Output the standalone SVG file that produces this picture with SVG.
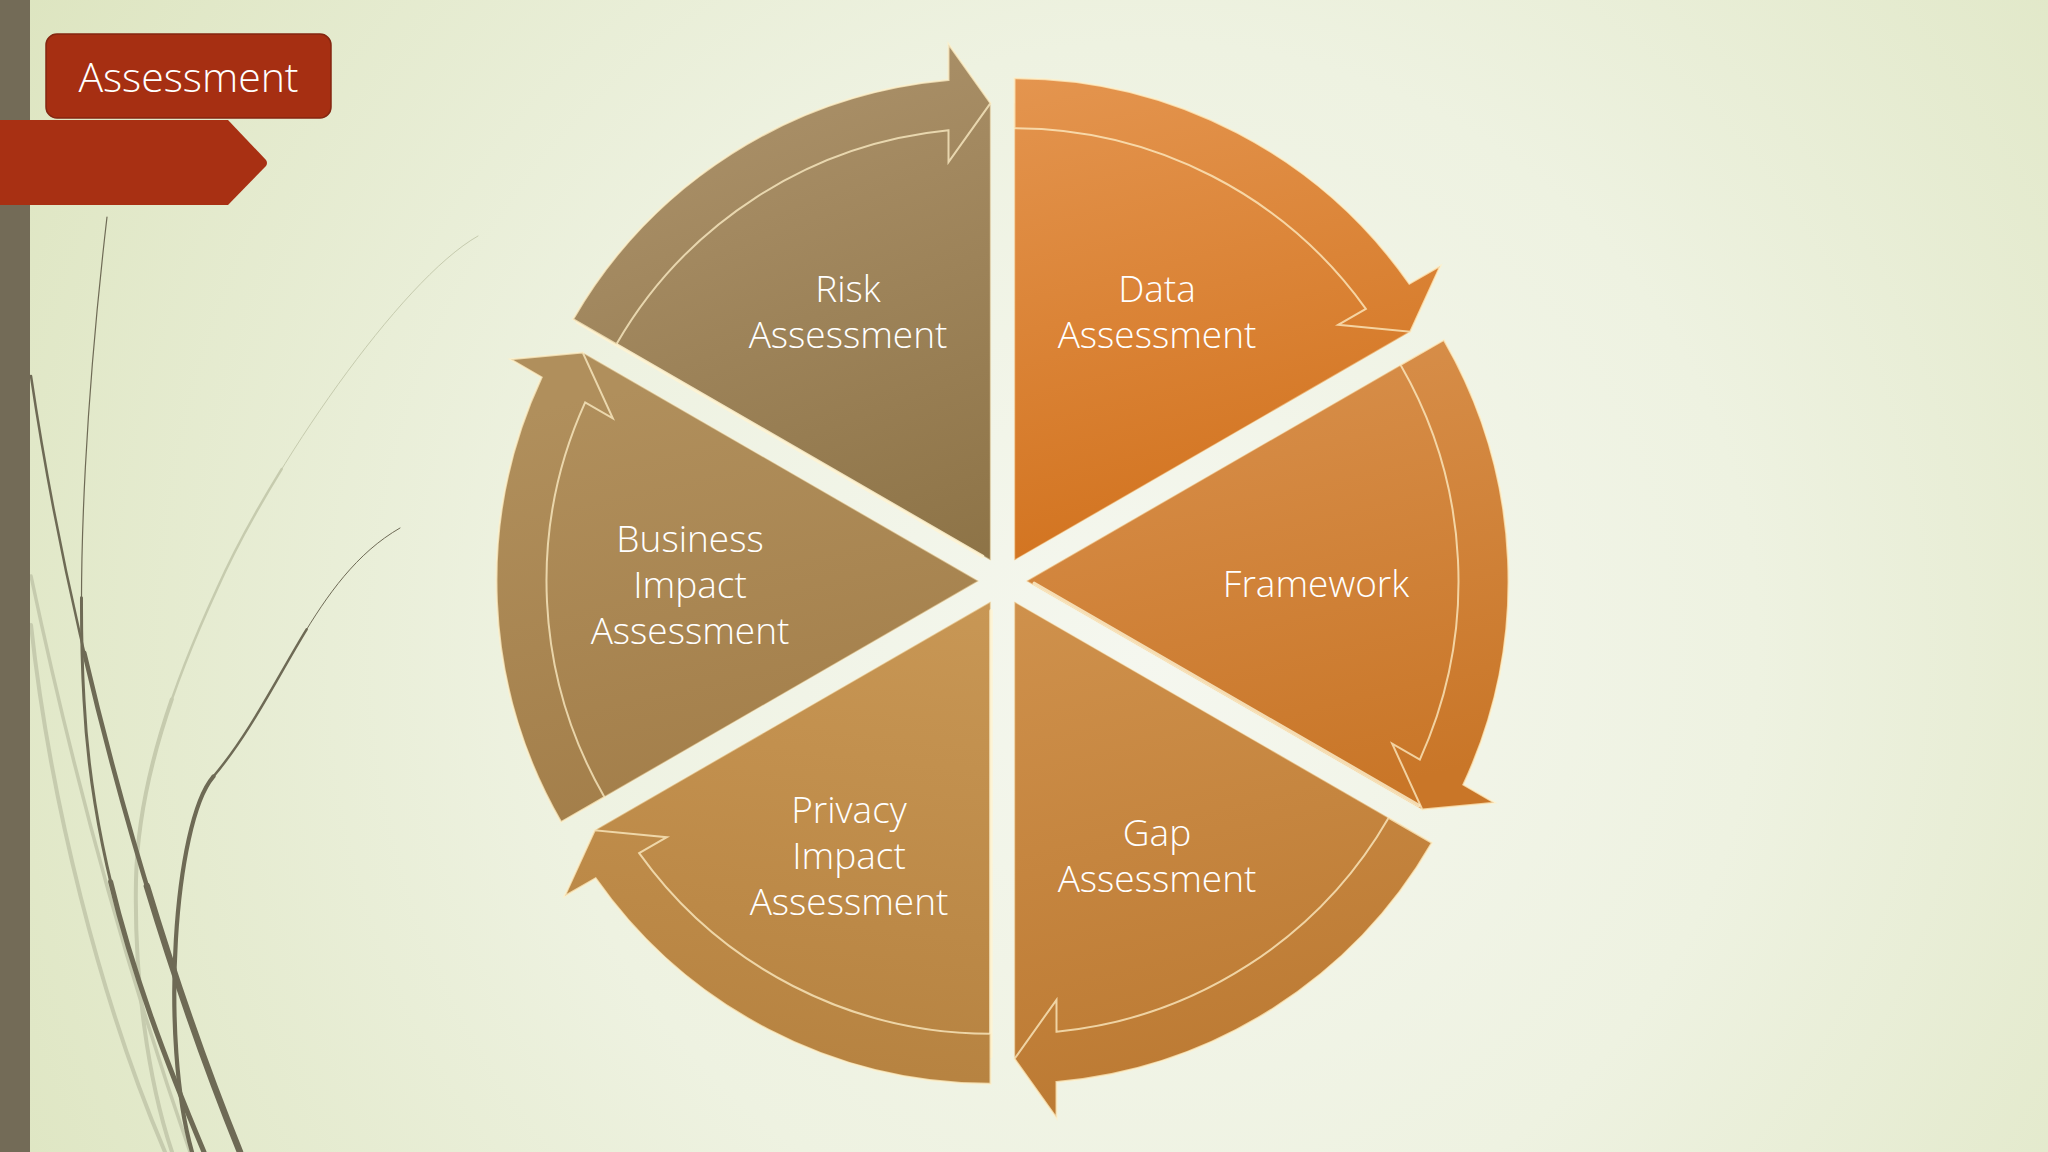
<svg xmlns="http://www.w3.org/2000/svg" width="2048" height="1152" viewBox="0 0 2048 1152">
<style>
.lbl{font-family:"Open Sans","Noto Sans","Liberation Sans",sans-serif;font-weight:300;font-size:37px;fill:#FFFFFF;text-anchor:middle}
.ttl{font-family:"Open Sans","Noto Sans","Liberation Sans",sans-serif;font-weight:300;font-size:41px;fill:#FFFFFF;text-anchor:middle}
.pie{stroke:#FFF0C8;stroke-opacity:.45;stroke-width:1.5;stroke-linejoin:round}
.arw{stroke:#FFF0C8;stroke-opacity:.75;stroke-width:2;stroke-linejoin:miter}
.hl{fill:none;stroke:#FFF4D2;stroke-width:3.5;stroke-opacity:.8;stroke-linecap:round}
.wd{fill:none;stroke:#6E6A55;stroke-linecap:round}
.wl{fill:none;stroke:#C6CBAE;stroke-linecap:round}
</style>
<defs>
<radialGradient id="bg" cx="1150" cy="650" r="1350" gradientUnits="userSpaceOnUse">
<stop offset="0" stop-color="#F5F7EF"/>
<stop offset="0.45" stop-color="#EEF2E1"/>
<stop offset="1" stop-color="#DCE4BE"/>
</radialGradient>
<linearGradient id="gRisk" gradientUnits="userSpaceOnUse" gradientTransform="rotate(90)" x1="-120" y1="-482" x2="60" y2="0"><stop offset="0" stop-color="#A88E66"/><stop offset="1" stop-color="#8C7245"/></linearGradient>
<linearGradient id="gData" gradientUnits="userSpaceOnUse" gradientTransform="rotate(30)" x1="0" y1="-482" x2="120" y2="0"><stop offset="0" stop-color="#E4954F"/><stop offset="1" stop-color="#D2731F"/></linearGradient>
<linearGradient id="gFrame" gradientUnits="userSpaceOnUse" gradientTransform="rotate(-30)" x1="0" y1="-260" x2="120" y2="260"><stop offset="0" stop-color="#DA9350"/><stop offset="1" stop-color="#C97628"/></linearGradient>
<linearGradient id="gGap" gradientUnits="userSpaceOnUse" gradientTransform="rotate(-90)" x1="0" y1="0" x2="120" y2="500"><stop offset="0" stop-color="#CF914C"/><stop offset="1" stop-color="#BC7A33"/></linearGradient>
<linearGradient id="gPriv" gradientUnits="userSpaceOnUse" gradientTransform="rotate(-150)" x1="0" y1="0" x2="-60" y2="500"><stop offset="0" stop-color="#C89755"/><stop offset="1" stop-color="#B68240"/></linearGradient>
<linearGradient id="gBus" gradientUnits="userSpaceOnUse" gradientTransform="rotate(150)" x1="-60" y1="-260" x2="60" y2="260"><stop offset="0" stop-color="#B08F5C"/><stop offset="1" stop-color="#A07A45"/></linearGradient>
<path id="pieShape" d="M0,0 L228.5,-395.78 A457,457 0 0 1 457,0 Z"/>
<path id="arrowShape" d="M241,-417.42 A482,482 0 0 1 480.17,-42 L516,-42 L457,0 L398,-42 L429.95,-42 A432,432 0 0 0 216,-374.12 Z"/>
</defs>

<rect x="0" y="0" width="2048" height="1152" fill="url(#bg)"/>

<g id="wisps">
<path class="wl" d="M31,576 C70,760 120,950 190,1152" stroke-width="3.5"/>
<path class="wl" d="M31,625 C50,800 100,1000 165,1152" stroke-width="4"/>
<path class="wl" d="M478,236 C400,280 270,470 217,589 C175,680 138,780 136,880 C134,980 148,1080 172,1152" stroke-width="1"/>
<path class="wl" pathLength="100" stroke-dasharray="100 100" stroke-dashoffset="-30" d="M478,236 C400,280 270,470 217,589 C175,680 138,780 136,880 C134,980 148,1080 172,1152" stroke-width="2.5"/>
<path class="wl" pathLength="100" stroke-dasharray="100 100" stroke-dashoffset="-55" d="M478,236 C400,280 270,470 217,589 C175,680 138,780 136,880 C134,980 148,1080 172,1152" stroke-width="4"/>
<path class="wd" d="M107,217 C88,380 76,560 84,700 C92,860 140,1000 204,1152" stroke-width="1.2"/>
<path class="wd" pathLength="100" stroke-dasharray="100 100" stroke-dashoffset="-40" d="M107,217 C88,380 76,560 84,700 C92,860 140,1000 204,1152" stroke-width="3"/>
<path class="wd" pathLength="100" stroke-dasharray="100 100" stroke-dashoffset="-70" d="M107,217 C88,380 76,560 84,700 C92,860 140,1000 204,1152" stroke-width="5"/>
<path class="wd" d="M31,376 C70,640 150,930 240,1152" stroke-width="2.5"/>
<path class="wd" pathLength="100" stroke-dasharray="100 100" stroke-dashoffset="-35" d="M31,376 C70,640 150,930 240,1152" stroke-width="4.5"/>
<path class="wd" pathLength="100" stroke-dasharray="100 100" stroke-dashoffset="-65" d="M31,376 C70,640 150,930 240,1152" stroke-width="6.5"/>
<path class="wd" d="M400,528 C313,578 283,694 213,777 C174,823 160,1040 192,1152" stroke-width="1"/>
<path class="wd" pathLength="100" stroke-dasharray="100 100" stroke-dashoffset="-20" d="M400,528 C313,578 283,694 213,777 C174,823 160,1040 192,1152" stroke-width="2.5"/>
<path class="wd" pathLength="100" stroke-dasharray="100 100" stroke-dashoffset="-45" d="M400,528 C313,578 283,694 213,777 C174,823 160,1040 192,1152" stroke-width="4.2"/>
</g>

<rect id="sidebar" x="0" y="0" width="30" height="1152" fill="#736B57"/>
<path id="chevron" d="M0,120 L228,120 L266,160 Q268,163 266,166 L228,205 L0,205 Z" fill="#A83013"/>

<g id="title">
<rect x="46" y="34" width="285" height="84" rx="11" fill="#A62F12" stroke="#842610" stroke-width="1.5"/>
<text class="ttl" x="188.5" y="92">Assessment</text>
</g>

<g id="node-risk">
<use href="#pieShape" class="pie" fill="url(#gRisk)" transform="translate(990.5,560.2) rotate(-90)"/>
<path class="hl" d="M4,-8 L238,-413" transform="translate(990.5,560.2) rotate(-90)"/>
<text class="lbl" x="848" y="302">Risk</text>
<text class="lbl" x="848" y="348">Assessment</text>
</g>
<g id="node-data">
<use href="#pieShape" class="pie" fill="url(#gData)" transform="translate(1014.5,560.2) rotate(-30)"/>
<text class="lbl" x="1157" y="302">Data</text>
<text class="lbl" x="1157" y="348">Assessment</text>
</g>
<g id="node-framework">
<use href="#pieShape" class="pie" fill="url(#gFrame)" transform="translate(1026.5,581) rotate(30)"/>
<path class="hl" d="M8,-1.8 L452,-1.8" transform="translate(1026.5,581) rotate(30)"/>
<text class="lbl" x="1316" y="597">Framework</text>
</g>
<g id="node-gap">
<use href="#pieShape" class="pie" fill="url(#gGap)" transform="translate(1014.5,601.8) rotate(90)"/>
<text class="lbl" x="1157" y="846">Gap</text>
<text class="lbl" x="1157" y="892">Assessment</text>
</g>
<g id="node-privacy">
<use href="#pieShape" class="pie" fill="url(#gPriv)" transform="translate(990.5,601.8) rotate(150)"/>
<path class="hl" stroke-opacity=".55" d="M4,-8 L227,-394" transform="translate(990.5,601.8) rotate(150)"/>
<text class="lbl" x="849" y="823">Privacy</text>
<text class="lbl" x="849" y="869">Impact</text>
<text class="lbl" x="849" y="915">Assessment</text>
</g>
<g id="node-business">
<use href="#pieShape" class="pie" fill="url(#gBus)" transform="translate(978.5,581) rotate(-150)"/>
<text class="lbl" x="690" y="552">Business</text>
<text class="lbl" x="690" y="598">Impact</text>
<text class="lbl" x="690" y="644">Assessment</text>
</g>

<g id="connectors">
<use href="#arrowShape" class="arw" fill="url(#gRisk)" transform="translate(990.5,560.2) rotate(-90)"/>
<use href="#arrowShape" class="arw" fill="url(#gData)" transform="translate(1014.5,560.2) rotate(-30)"/>
<use href="#arrowShape" class="arw" fill="url(#gFrame)" transform="translate(1026.5,581) rotate(30)"/>
<use href="#arrowShape" class="arw" fill="url(#gGap)" transform="translate(1014.5,601.8) rotate(90)"/>
<use href="#arrowShape" class="arw" fill="url(#gPriv)" transform="translate(990.5,601.8) rotate(150)"/>
<use href="#arrowShape" class="arw" fill="url(#gBus)" transform="translate(978.5,581) rotate(-150)"/>
</g>
</svg>
